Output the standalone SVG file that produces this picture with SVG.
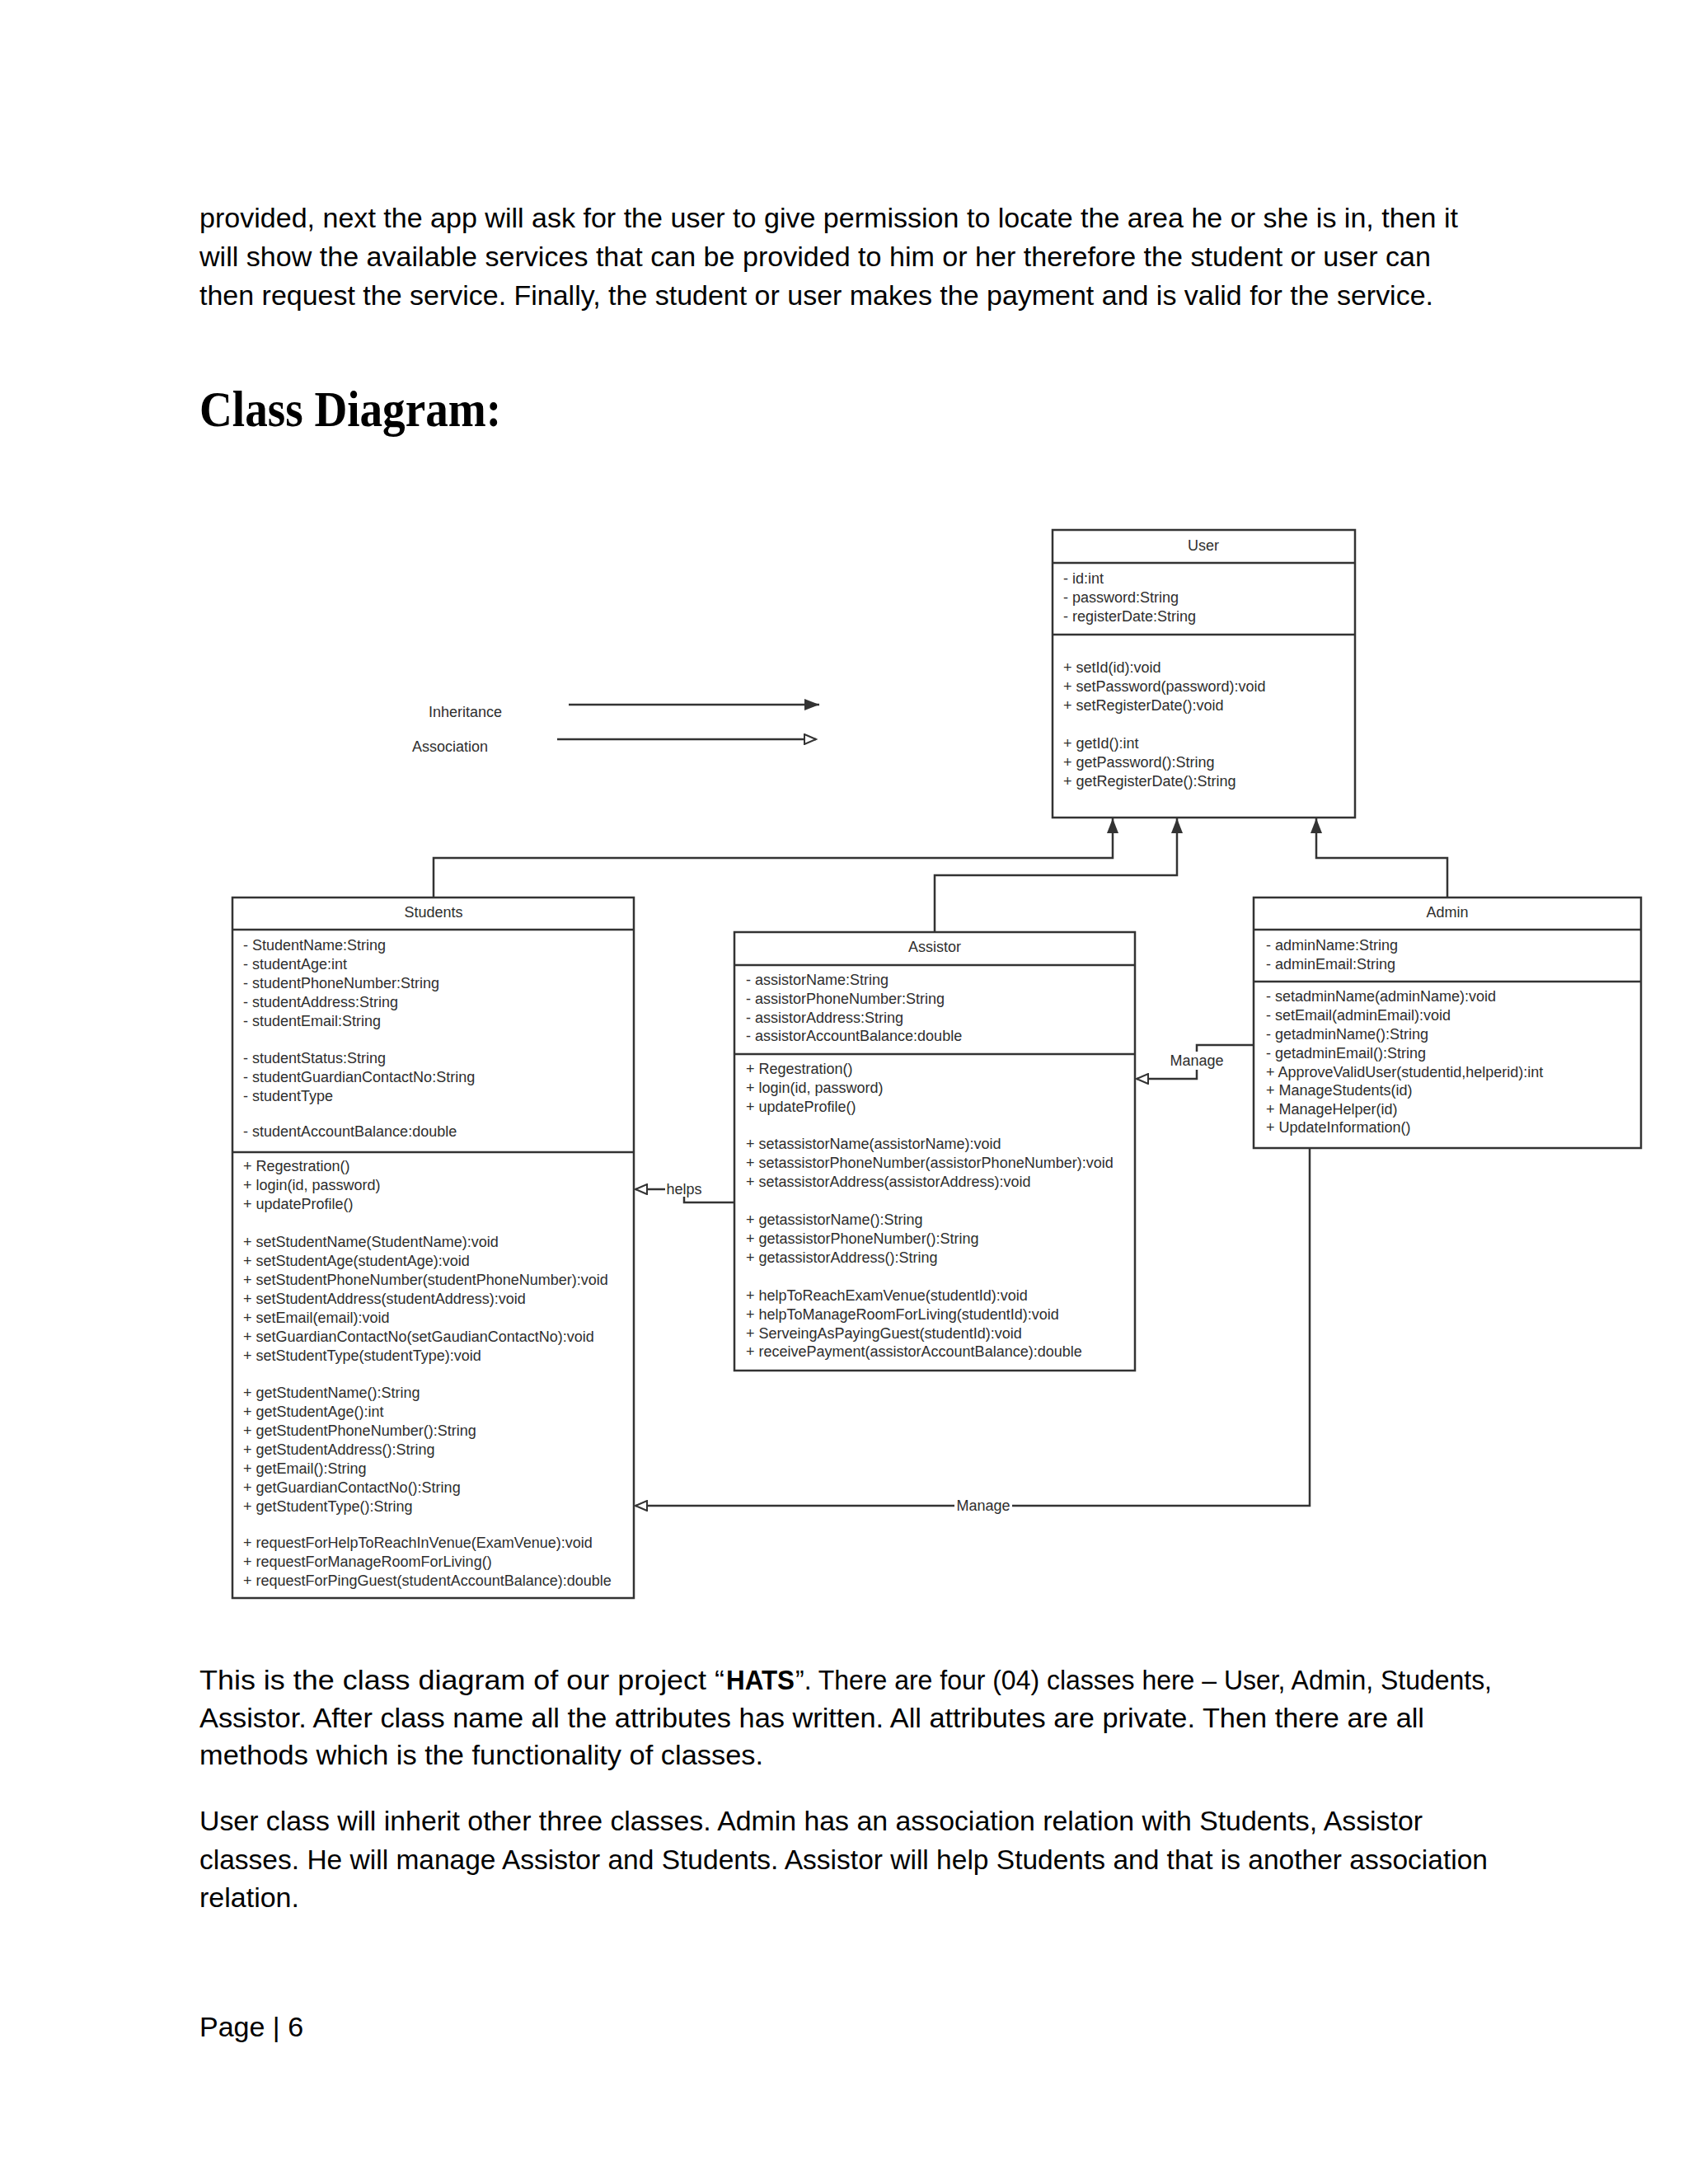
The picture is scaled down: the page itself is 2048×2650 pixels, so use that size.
<svg xmlns="http://www.w3.org/2000/svg" width="2048" height="2650" viewBox="0 0 2048 2650">
<style>
.pg{font-family:"Liberation Sans",Arial,sans-serif;font-size:34px;fill:#000}
.b{font-weight:bold}
.ttl{font-family:"Liberation Serif","Times New Roman",serif;font-weight:bold;font-size:62px;fill:#000}
.t{font-family:"Liberation Sans",Arial,sans-serif;font-size:18px;fill:#2e2e2e}
.c{text-anchor:middle}
.box{fill:#fff;stroke:#333;stroke-width:2.5}
.sep{stroke:#333;stroke-width:2.5}
.ln{fill:none;stroke:#333;stroke-width:2.5}
.lbl{fill:#fff;stroke:none}
</style>
<defs>
<marker id="inh" markerUnits="userSpaceOnUse" markerWidth="18" markerHeight="14" refX="18" refY="7" orient="auto">
<path d="M0,0 L18,7 L0,14 z" fill="#333"/>
</marker>
<marker id="asc" markerUnits="userSpaceOnUse" markerWidth="18" markerHeight="14" refX="16" refY="7" orient="auto">
<path d="M2,1 L16,7 L2,13 z" fill="#fff" stroke="#333" stroke-width="2"/>
</marker>
</defs>
<rect width="2048" height="2650" fill="#fff"/>

<g id="page-text-top">
<text class="pg" x="242" y="276" textLength="1527" lengthAdjust="spacingAndGlyphs">provided, next the app will ask for the user to give permission to locate the area he or she is in, then it</text>
<text class="pg" x="242" y="323" textLength="1494" lengthAdjust="spacingAndGlyphs">will show the available services that can be provided to him or her therefore the student or user can</text>
<text class="pg" x="242" y="370" textLength="1497" lengthAdjust="spacingAndGlyphs">then request the service. Finally, the student or user makes the payment and is valid for the service.</text>
<text class="ttl" x="242" y="517" textLength="366" lengthAdjust="spacingAndGlyphs">Class Diagram:</text>
</g>

<g id="legend">
<text class="t" x="520" y="870">Inheritance</text>
<text class="t" x="500" y="912">Association</text>
<path class="ln" d="M690,855 H994" marker-end="url(#inh)"/>
<path class="ln" d="M676,897 H990" marker-end="url(#asc)"/>
</g>

<g id="connectors">
<path class="ln" d="M526,1089 V1041 H1350 V993" marker-end="url(#inh)"/>
<path class="ln" d="M1134,1131 V1062 H1428 V993" marker-end="url(#inh)"/>
<path class="ln" d="M1756,1089 V1041 H1597 V993" marker-end="url(#inh)"/>
<path class="ln" d="M891,1459 H830 V1443 H771" marker-end="url(#asc)"/>
<rect class="lbl" x="807" y="1432" width="46" height="20"/>
<text class="t c" x="830" y="1449">helps</text>
<path class="ln" d="M1521,1268 H1452 V1309 H1379" marker-end="url(#asc)"/>
<rect class="lbl" x="1418" y="1276" width="68" height="22"/>
<text class="t c" x="1452" y="1293">Manage</text>
<path class="ln" d="M1589,1393 V1827 H771" marker-end="url(#asc)"/>
<rect class="lbl" x="1158" y="1816" width="70" height="22"/>
<text class="t c" x="1193" y="1833">Manage</text>
</g>

<g id="User">
<rect class="box" x="1277" y="643" width="367" height="349"/>
<line class="sep" x1="1277" y1="683" x2="1644" y2="683"/>
<line class="sep" x1="1277" y1="770" x2="1644" y2="770"/>
<text class="t c" x="1460" y="668">User</text>
<text class="t" x="1290" y="708">- id:int</text>
<text class="t" x="1290" y="731">- password:String</text>
<text class="t" x="1290" y="754">- registerDate:String</text>
<text class="t" x="1290" y="816">+ setId(id):void</text>
<text class="t" x="1290" y="839">+ setPassword(password):void</text>
<text class="t" x="1290" y="862">+ setRegisterDate():void</text>
<text class="t" x="1290" y="908">+ getId():int</text>
<text class="t" x="1290" y="931">+ getPassword():String</text>
<text class="t" x="1290" y="954">+ getRegisterDate():String</text>
</g>

<g id="Students">
<rect class="box" x="282" y="1089" width="487" height="850"/>
<line class="sep" x1="282" y1="1128" x2="769" y2="1128"/>
<line class="sep" x1="282" y1="1398" x2="769" y2="1398"/>
<text class="t c" x="526" y="1113">Students</text>
<text class="t" x="295" y="1153">- StudentName:String</text>
<text class="t" x="295" y="1176">- studentAge:int</text>
<text class="t" x="295" y="1199">- studentPhoneNumber:String</text>
<text class="t" x="295" y="1222">- studentAddress:String</text>
<text class="t" x="295" y="1245">- studentEmail:String</text>
<text class="t" x="295" y="1290">- studentStatus:String</text>
<text class="t" x="295" y="1313">- studentGuardianContactNo:String</text>
<text class="t" x="295" y="1336">- studentType</text>
<text class="t" x="295" y="1379">- studentAccountBalance:double</text>
<text class="t" x="295" y="1421">+ Regestration()</text>
<text class="t" x="295" y="1444">+ login(id, password)</text>
<text class="t" x="295" y="1467">+ updateProfile()</text>
<text class="t" x="295" y="1513">+ setStudentName(StudentName):void</text>
<text class="t" x="295" y="1536">+ setStudentAge(studentAge):void</text>
<text class="t" x="295" y="1559">+ setStudentPhoneNumber(studentPhoneNumber):void</text>
<text class="t" x="295" y="1582">+ setStudentAddress(studentAddress):void</text>
<text class="t" x="295" y="1605">+ setEmail(email):void</text>
<text class="t" x="295" y="1628">+ setGuardianContactNo(setGaudianContactNo):void</text>
<text class="t" x="295" y="1651">+ setStudentType(studentType):void</text>
<text class="t" x="295" y="1696">+ getStudentName():String</text>
<text class="t" x="295" y="1719">+ getStudentAge():int</text>
<text class="t" x="295" y="1742">+ getStudentPhoneNumber():String</text>
<text class="t" x="295" y="1765">+ getStudentAddress():String</text>
<text class="t" x="295" y="1788">+ getEmail():String</text>
<text class="t" x="295" y="1811">+ getGuardianContactNo():String</text>
<text class="t" x="295" y="1834">+ getStudentType():String</text>
<text class="t" x="295" y="1878">+ requestForHelpToReachInVenue(ExamVenue):void</text>
<text class="t" x="295" y="1901">+ requestForManageRoomForLiving()</text>
<text class="t" x="295" y="1924">+ requestForPingGuest(studentAccountBalance):double</text>
</g>

<g id="Assistor">
<rect class="box" x="891" y="1131" width="486" height="532"/>
<line class="sep" x1="891" y1="1171" x2="1377" y2="1171"/>
<line class="sep" x1="891" y1="1279" x2="1377" y2="1279"/>
<text class="t c" x="1134" y="1155">Assistor</text>
<text class="t" x="905" y="1195">- assistorName:String</text>
<text class="t" x="905" y="1218">- assistorPhoneNumber:String</text>
<text class="t" x="905" y="1241">- assistorAddress:String</text>
<text class="t" x="905" y="1263">- assistorAccountBalance:double</text>
<text class="t" x="905" y="1303">+ Regestration()</text>
<text class="t" x="905" y="1326">+ login(id, password)</text>
<text class="t" x="905" y="1349">+ updateProfile()</text>
<text class="t" x="905" y="1394">+ setassistorName(assistorName):void</text>
<text class="t" x="905" y="1417">+ setassistorPhoneNumber(assistorPhoneNumber):void</text>
<text class="t" x="905" y="1440">+ setassistorAddress(assistorAddress):void</text>
<text class="t" x="905" y="1486">+ getassistorName():String</text>
<text class="t" x="905" y="1509">+ getassistorPhoneNumber():String</text>
<text class="t" x="905" y="1532">+ getassistorAddress():String</text>
<text class="t" x="905" y="1578">+ helpToReachExamVenue(studentId):void</text>
<text class="t" x="905" y="1601">+ helpToManageRoomForLiving(studentId):void</text>
<text class="t" x="905" y="1624">+ ServeingAsPayingGuest(studentId):void</text>
<text class="t" x="905" y="1646">+ receivePayment(assistorAccountBalance):double</text>
</g>

<g id="Admin">
<rect class="box" x="1521" y="1089" width="470" height="304"/>
<line class="sep" x1="1521" y1="1128" x2="1991" y2="1128"/>
<line class="sep" x1="1521" y1="1191" x2="1991" y2="1191"/>
<text class="t c" x="1756" y="1113">Admin</text>
<text class="t" x="1536" y="1153">- adminName:String</text>
<text class="t" x="1536" y="1176">- adminEmail:String</text>
<text class="t" x="1536" y="1215">- setadminName(adminName):void</text>
<text class="t" x="1536" y="1238">- setEmail(adminEmail):void</text>
<text class="t" x="1536" y="1261">- getadminName():String</text>
<text class="t" x="1536" y="1284">- getadminEmail():String</text>
<text class="t" x="1536" y="1307">+ ApproveValidUser(studentid,helperid):int</text>
<text class="t" x="1536" y="1329">+ ManageStudents(id)</text>
<text class="t" x="1536" y="1352">+ ManageHelper(id)</text>
<text class="t" x="1536" y="1374">+ UpdateInformation()</text>
</g>

<g id="page-text-bottom">
<text class="pg" x="242" y="2050" textLength="637" lengthAdjust="spacingAndGlyphs">This is the class diagram of our project “</text>
<text class="pg b" x="881" y="2050" textLength="83" lengthAdjust="spacingAndGlyphs">HATS</text>
<text class="pg" x="965" y="2050" textLength="845" lengthAdjust="spacingAndGlyphs">”. There are four (04) classes here – User, Admin, Students,</text>
<text class="pg" x="242" y="2096" textLength="1486" lengthAdjust="spacingAndGlyphs">Assistor. After class name all the attributes has written. All attributes are private. Then there are all</text>
<text class="pg" x="242" y="2141" textLength="684" lengthAdjust="spacingAndGlyphs">methods which is the functionality of classes.</text>
<text class="pg" x="242" y="2221" textLength="1484" lengthAdjust="spacingAndGlyphs">User class will inherit other three classes. Admin has an association relation with Students, Assistor</text>
<text class="pg" x="242" y="2268" textLength="1563" lengthAdjust="spacingAndGlyphs">classes. He will manage Assistor and Students. Assistor will help Students and that is another association</text>
<text class="pg" x="242" y="2314">relation.</text>
<text class="pg" x="242" y="2471">Page | 6</text>
</g>
</svg>
